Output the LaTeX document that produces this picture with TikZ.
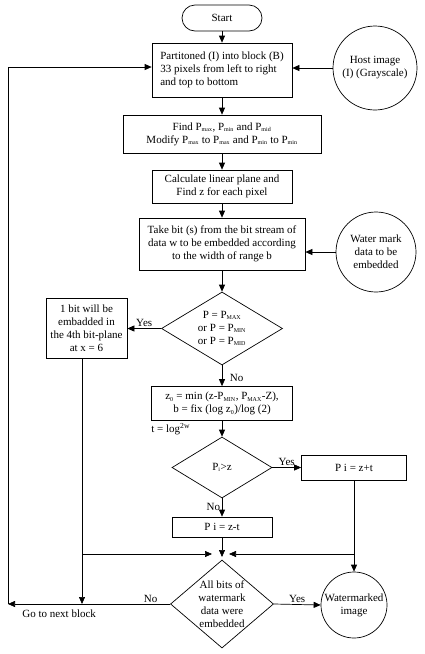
\documentclass[tikz,border=0pt]{standalone}
\usepackage{fontspec}
\setmainfont{Liberation Serif}
\usetikzlibrary{arrows.meta,shapes.geometric}
\newcommand{\sbx}[1]{\textsubscript{\fontsize{6}{6}\selectfont #1}}
\begin{document}
\begin{tikzpicture}[x=1pt,y=-1pt,
  font=\fontsize{11}{13}\selectfont,
  line width=0.7pt,
  >={Triangle[length=7pt,width=6pt]},
  box/.style={draw, rectangle, inner sep=2pt, align=center},
  term/.style={draw, rectangle, rounded corners=13pt, minimum width=80pt, minimum height=26pt},
  circ/.style={draw, circle, inner sep=0pt, align=center},
  dia/.style={draw, diamond, inner sep=0pt},
  lbl/.style={inner sep=1.5pt}]
\useasboundingbox (0,0) rectangle (425,654);

\node[term] (start) at (222,18) {Start};
\node[box, minimum width=140pt, minimum height=54pt, align=left] (b1) at (222,70)
  {Partitoned (I) into block (B)\\33 pixels from left to right\\and top to bottom};
\node[circ, minimum size=84pt] (host) at (375,68) {Host image\\(I) (Grayscale)};
\node[box, minimum width=198pt, minimum height=38pt] (b2) at (222,134)
  {Find P\sbx{max}, P\sbx{min} and P\sbx{mid}\\Modify P\sbx{max} to P\sbx{max} and P\sbx{min} to P\sbx{min}};
\node[box, minimum width=140pt, minimum height=33pt] (b3) at (222,186.5)
  {Calculate linear plane and\\Find z for each pixel};
\node[box, minimum width=166pt, minimum height=52pt] (b4) at (222,244)
  {Take bit (s) from the bit stream of\\data w to be embedded according\\to the width of range b};
\node[circ, minimum size=80pt] (wm) at (376,252) {Water mark\\data to be\\embedded};

\node[dia, minimum width=121pt, minimum height=73pt] (d1) at (222,328.5) {};
\node[align=center] (d1t) at (d1) {P = P\sbx{MAX}\\or P = P\sbx{MIN}\\or P = P\sbx{MID}};
\node[box, minimum width=81pt, minimum height=60pt] (lb) at (86.5,328.5)
  {1 bit will be\\embadded in\\the 4th bit-plane\\at x = 6};

\node[box, minimum width=141pt, minimum height=34pt] (b5) at (222,403.5)
  {z\sbx{0} = min (z-P\sbx{MIN}, P\sbx{MAX}-Z),\\b = fix (log z\sbx{0})/log (2)};
\node[anchor=west, inner sep=0pt] (tl) at (151,429) {t = log\textsuperscript{2w}};

\node[dia, minimum width=100pt, minimum height=61pt] (d2) at (222,467.5) {};
\node (d2t) at (d2) {P\sbx{i}>z};
\node[box, minimum width=105pt, minimum height=25pt] (b6) at (354,467.5) {P i = z+t};
\node[box, minimum width=100pt, minimum height=20pt] (b7) at (222,527) {P i = z-t};

\node[dia, minimum width=103pt, minimum height=88pt] (d3) at (222,604) {};
\node[align=center] (d3t) at (d3) {All bits of\\watermark\\data were\\embedded};
\node[circ, minimum size=66pt] (wc) at (354,605) {Watermarked\\image};
\node[anchor=west, inner sep=0pt] (gn) at (22,614) {Go to next block};

\coordinate (lbs) at ([xshift=-4.5pt]lb.south);
\coordinate (lx) at (82,554);
\coordinate (mL) at (212,554);
\coordinate (mR) at (229,554);
\coordinate (mB) at (222,557);
\coordinate (lp) at (8,604);
\coordinate (lt) at (8,67);

\draw[->] (start) -- (b1);
\draw[->] (b1) -- (b2);
\draw[->] (b2) -- (b3);
\draw[->] (b3) -- (b4);
\draw[->] (b4) -- (d1);
\draw[->] (host.west) -- (host.west -| b1.east);
\draw[->] (wm.west) -- (wm.west -| b4.east);
\draw[->] (d1.west) -- (d1.west -| lb.east) node[midway, above, lbl] {Yes};
\draw[->] (d1) -- (b5) node[pos=0.6, right, lbl, xshift=6pt] {No};
\draw[->] (b5) -- (d2);
\draw[->] (d2.east) -- (d2.east -| b6.west) node[midway, above, lbl] {Yes};
\draw[->] (d2) -- (b7) node[pos=0.45, left, lbl] {No};
\draw[->] (b7) -- (mB);
\draw[->] (lbs) -- (lbs |- d3.west);
\draw[->] (lx) -- (mL);
\draw[->] (b6.south) -- (wc.north);
\draw[->] (b6.south |- lx) -- (mR);
\draw[->] (d3.east) -- (wc.west) node[midway, above, lbl] {Yes};
\draw[->] (d3.west) -- (lp) node[pos=0.12, above, lbl] {No};
\draw[->] (lp) -- (lt) -- (lt -| b1.west);
\end{tikzpicture}
\end{document}
